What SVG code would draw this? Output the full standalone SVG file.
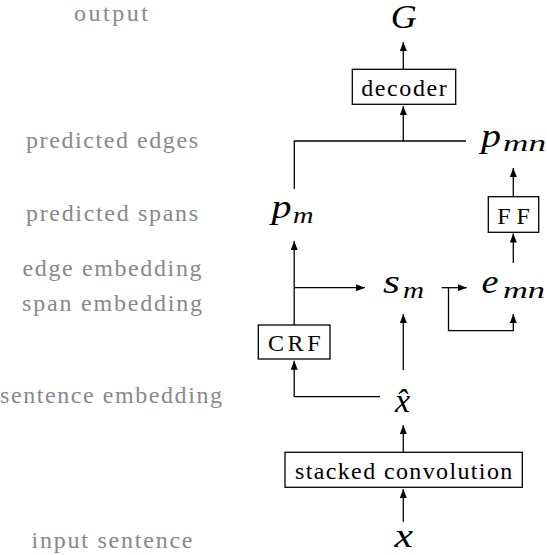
<svg xmlns="http://www.w3.org/2000/svg" width="547" height="555" viewBox="0 0 547 555">
<defs>
<marker id="arr" viewBox="0 0 9 7" refX="9" refY="3.5" markerWidth="9" markerHeight="7" markerUnits="userSpaceOnUse" orient="auto">
<path d="M0,0 L9,3.5 L0,7 z" fill="#000"/>
</marker>
</defs>
<style>
text{font-family:'Liberation Serif','Times New Roman',serif}
.lbl{font-size:24px;fill:#888;text-anchor:middle}
.box{fill:#fff;stroke:#000;stroke-width:1.3}
.btx{font-size:24px;fill:#000;text-anchor:middle}
.m{font-style:italic;font-size:34px;fill:#000}
.s{font-style:italic;font-size:24px;fill:#000}
.c{fill:none;stroke:#000;stroke-width:1.3}
.a{marker-end:url(#arr)}
</style>
<rect width="547" height="555" fill="#fff"/>

<g id="labels">
<text class="lbl" x="111" y="20.5" textLength="74">output</text>
<text class="lbl" x="112" y="148.3" textLength="172">predicted edges</text>
<text class="lbl" x="112" y="220.7" textLength="172">predicted spans</text>
<text class="lbl" x="112" y="275.5" textLength="179">edge embedding</text>
<text class="lbl" x="112" y="311" textLength="180">span embedding</text>
<text class="lbl" x="111" y="403.3" textLength="222">sentence embedding</text>
<text class="lbl" x="112" y="548.3" textLength="161">input sentence</text>
</g>

<g id="connectors">
<path class="c a" d="M403.3,521.7 V489"/>
<path class="c a" d="M403.3,452.3 V425"/>
<path class="c a" d="M403.3,370 V314"/>
<path class="c a" d="M380,396.7 H294.2 V360.7"/>
<path class="c a" d="M294.2,325 V241"/>
<path class="c a" d="M294.2,287.7 H365"/>
<path class="c a" d="M441.7,287.7 H466.7"/>
<path class="c a" d="M448.5,287.7 V330.7 H513.3 V314"/>
<path class="c a" d="M513.3,263 V233.5"/>
<path class="c a" d="M513.3,196.7 V168"/>
<path class="c" d="M294.3,189 V141 H466"/>
<path class="c a" d="M403.3,141 V106"/>
<path class="c a" d="M403.3,69.3 V42"/>
</g>

<g id="G"><text class="m" x="390.7" y="28" font-size="31" textLength="26" lengthAdjust="spacingAndGlyphs">G</text></g>

<g id="decoder">
<rect class="box" x="352.3" y="69.3" width="103.4" height="35"/>
<text class="btx" x="404" y="96.2" textLength="85.7">decoder</text>
</g>

<g id="p_mn">
<text class="m" x="481" y="146.7" textLength="20" lengthAdjust="spacingAndGlyphs">p</text>
<text class="s" x="503" y="151" textLength="43" lengthAdjust="spacingAndGlyphs">mn</text>
</g>

<g id="FF">
<rect class="box" x="488.3" y="196.7" width="50.4" height="35.6"/>
<text class="btx" x="513.5" y="224" textLength="32.6">FF</text>
</g>

<g id="p_m">
<text class="m" x="271.5" y="218.3" textLength="20" lengthAdjust="spacingAndGlyphs">p</text>
<text class="s" x="293" y="222.5" textLength="20.5" lengthAdjust="spacingAndGlyphs">m</text>
</g>

<g id="s_m">
<text class="m" x="383" y="293" textLength="17" lengthAdjust="spacingAndGlyphs">s</text>
<text class="s" x="403" y="297.5" textLength="21" lengthAdjust="spacingAndGlyphs">m</text>
</g>

<g id="e_mn">
<text class="m" x="481.5" y="293" textLength="17" lengthAdjust="spacingAndGlyphs">e</text>
<text class="s" x="503" y="297.5" textLength="42" lengthAdjust="spacingAndGlyphs">mn</text>
</g>

<g id="CRF">
<rect class="box" x="258.3" y="325" width="71.7" height="34"/>
<text class="btx" x="294.3" y="350.7" textLength="52.4">CRF</text>
</g>

<g id="xhat">
<text class="m" x="395" y="411.5">x̂</text>
</g>

<g id="stacked">
<rect class="box" x="285" y="452.3" width="237.3" height="35"/>
<text class="btx" x="403.6" y="479" textLength="217.3">stacked convolution</text>
</g>

<g id="x"><text class="m" x="394.5" y="546.5" textLength="18.5" lengthAdjust="spacingAndGlyphs">x</text></g>
</svg>
